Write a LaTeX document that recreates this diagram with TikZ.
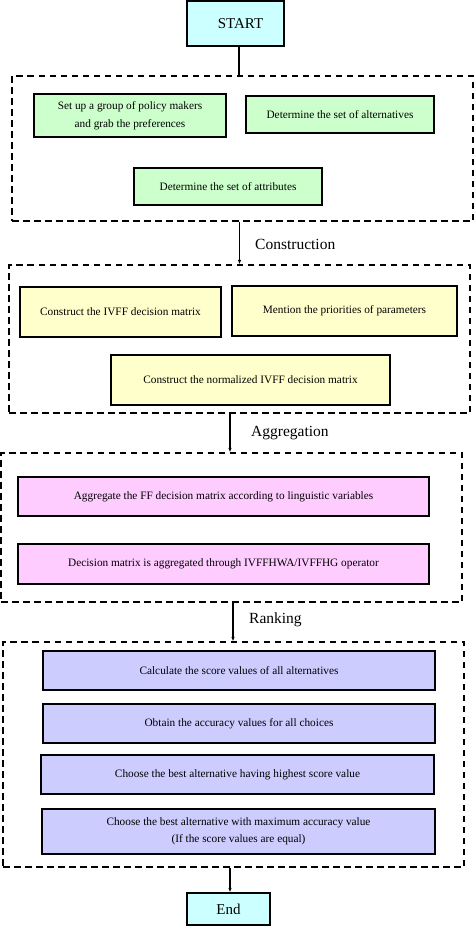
\documentclass[tikz,border=0pt]{standalone}
\usepackage{fontspec}
\setmainfont{Liberation Serif}
\usetikzlibrary{arrows.meta}
\definecolor{cyanf}{HTML}{CCFFFF}
\definecolor{greenf}{HTML}{CCFFCC}
\definecolor{yellowf}{HTML}{FFFFCC}
\definecolor{pinkf}{HTML}{FFCCFF}
\definecolor{bluef}{HTML}{CCCCFF}
\tikzset{
  box/.style={draw=black, line width=1.2pt, rectangle, inner sep=0pt, align=center,
    font=\fontsize{11.3}{17.5}\selectfont},
  termbox/.style={box, fill=cyanf, font=\fontsize{15}{18}\selectfont},
  grp/.style={draw=black, line width=1.2pt, dash pattern=on 6.5pt off 4.5pt, rectangle, inner sep=0pt},
  phase/.style={anchor=west, inner sep=0pt, font=\fontsize{15.5}{18}\selectfont},
  conn/.style={line width=1.4pt},
  arr/.style={conn, -{Latex[length=4.5pt,width=3.5pt]}}
}
\begin{document}
\begin{tikzpicture}[x=1pt,y=1pt]
\useasboundingbox (0,0) rectangle (474,-926);
% start / end
\node[termbox, minimum width=97pt, minimum height=45pt] (start) at (235.5,-23.5) {\hspace*{10pt}START};
\node[termbox, minimum width=83pt, minimum height=32pt] (end) at (228.5,-909) {End};
% group boxes
\node[grp, minimum width=461pt, minimum height=145pt] (d1) at (242.5,-148.5) {};
\node[grp, minimum width=461pt, minimum height=148pt] (d2) at (239.5,-339) {};
\node[grp, minimum width=461pt, minimum height=149pt] (d3) at (231.5,-527.5) {};
\node[grp, minimum width=461pt, minimum height=225pt] (d4) at (233.5,-754.5) {};
% stage 1
\node[box, fill=greenf, minimum width=192pt, minimum height=43pt] (g1) at (130,-115.5) {Set up a group of policy makers\\and grab the preferences};
\node[box, fill=greenf, minimum width=188pt, minimum height=37pt] (g2) at (340,-114.5) {Determine the set of alternatives};
\node[box, fill=greenf, minimum width=188pt, minimum height=37pt] (g3) at (228,-186.5) {Determine the set of attributes};
% stage 2
\node[box, fill=yellowf, minimum width=201pt, minimum height=50pt] (y1) at (120.5,-312) {Construct the IVFF decision matrix};
\node[box, fill=yellowf, minimum width=225pt, minimum height=50pt] (y2) at (344.5,-311) {Mention the priorities of parameters};
\node[box, fill=yellowf, minimum width=279pt, minimum height=50pt] (y3) at (250.5,-380) {Construct the normalized IVFF decision matrix};
% stage 3
\node[box, fill=pinkf, minimum width=411pt, minimum height=39pt] (p1) at (223.5,-496.5) {Aggregate the FF decision matrix according to linguistic variables};
\node[box, fill=pinkf, minimum width=411pt, minimum height=40pt] (p2) at (223.5,-564) {Decision matrix is aggregated through IVFFHWA/IVFFHG operator};
% stage 4
\node[box, fill=bluef, minimum width=392pt, minimum height=39pt] (b1) at (239,-670.5) {Calculate the score values of all alternatives};
\node[box, fill=bluef, minimum width=392pt, minimum height=39pt] (b2) at (239,-723.5) {Obtain the accuracy values for all choices};
\node[box, fill=bluef, minimum width=393pt, minimum height=39pt] (b3) at (237.5,-774.5) {Choose the best alternative having highest score value};
\node[box, fill=bluef, minimum width=393pt, minimum height=45pt] (b4) at (238.5,-831.5) {Choose the best alternative with maximum accuracy value\\(If the score values are equal)};
% phase labels
\node[phase] (lc) at (255,-244) {Construction};
\node[phase] (la) at (251,-433) {Aggregation};
\node[phase] (lr) at (249,-620) {Ranking};
% connector x positions
\coordinate (k0) at (239,0);
\coordinate (k1) at (239.5,0);
\coordinate (k2) at (230,0);
\coordinate (k3) at (233,0);
\coordinate (k4) at (230,0);
\draw[conn] (start.south -| k0) -- (d1.north -| k0);
\draw[arr] (d1.south -| k1) -- (d2.north -| k1);
\draw[arr] (d2.south -| k2) -- (d3.north -| k2);
\draw[arr] (d3.south -| k3) -- (d4.north -| k3);
\draw[arr] (d4.south -| k4) -- (end.north -| k4);
\end{tikzpicture}
\end{document}
